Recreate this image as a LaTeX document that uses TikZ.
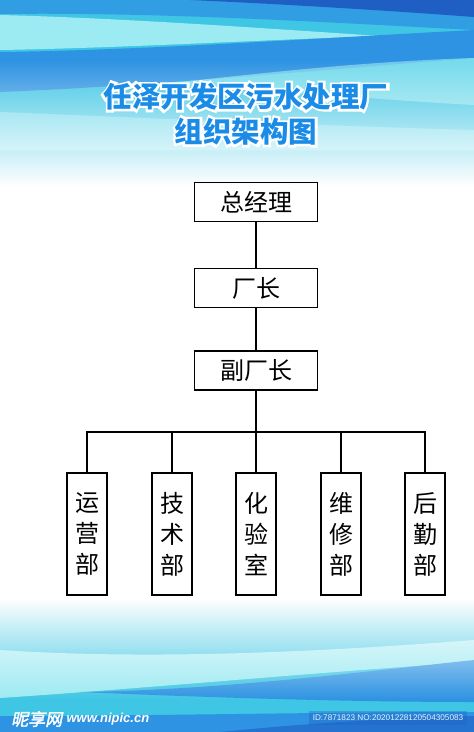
\documentclass[tikz,border=0pt]{standalone}
\usepackage{fontspec}
\setmainfont{Noto Sans CJK SC}
\newfontfamily\latinfont{Liberation Sans}
\newfontfamily\wmfont[FakeSlant=0.2,FakeBold=2]{Noto Sans CJK SC}
\newfontfamily\ttlout[FakeBold=20]{Noto Sans CJK SC}
\usetikzlibrary{positioning}
\usetikzlibrary{fadings}

\definecolor{wvdark}{HTML}{1F5FC4}
\definecolor{wvblue}{HTML}{2E93E2}
\definecolor{wvcyan}{HTML}{3EC6E4}
\definecolor{wvlight}{HTML}{9CEAF2}
\definecolor{ttlblue}{HTML}{1A8CE8}

\tikzfading[name=fadedown, top color=transparent!100, bottom color=transparent!0]
\tikzfading[name=fadeup, top color=transparent!0, bottom color=transparent!100]

\begin{document}
\begin{tikzpicture}[x=1pt,y=1pt,
			box/.style={draw, line width=1.2pt, minimum width=123pt, minimum height=39pt, inner sep=0pt, font=\fontsize{24}{24}\selectfont},
			dept/.style={draw, line width=1.2pt, minimum width=40pt, minimum height=122pt, inner sep=0pt, align=center, font=\fontsize{24}{31}\selectfont},
			link/.style={line width=1.2pt},
			ttl/.style={font=\fontsize{28.5}{35}\selectfont\bfseries, text=ttlblue, inner sep=0pt, align=center}
			]
			\useasboundingbox (0,0) rectangle (474,-732);
			\fill[white] (0,0) rectangle (474,-732);
			
			% Top waves
			\fill[wvcyan] (0,0) rectangle (474,-185);
			\fill[wvblue!80!wvcyan] (0,0) -- (474,0) -- (474,-30) .. controls (320,-22) and (160,-12) .. (0,-14) -- cycle;
			\fill[wvdark] (190,0) -- (474,0) -- (474,-17) .. controls (380,-10) and (280,-4) .. (190,0) -- cycle;
			\fill[wvlight] (0,-15) .. controls (120,-18) and (260,-28) .. (380,-36) .. controls (260,-40) and (120,-48) .. (0,-50) -- cycle;
			\fill[wvblue] (0,-52) .. controls (150,-50) and (320,-38) .. (474,-30) -- (474,-58) .. controls (320,-70) and (150,-86) .. (0,-92) -- cycle;
			\fill[wvlight, opacity=.6] (474,-58) .. controls (350,-62) and (250,-75) .. (150,-85) .. controls (280,-90) and (380,-100) .. (474,-105) -- cycle;
			\fill[wvlight, opacity=.5] (0,-112) .. controls (150,-118) and (300,-125) .. (474,-130) -- (474,-150) -- (0,-150) -- cycle;
			\fill[white, path fading=fadedown] (0,-60) rectangle (474,-186);
			
			% Bottom waves
			\fill[wvcyan] (0,-600) rectangle (474,-732);
			\fill[wvlight] (0,-650) .. controls (150,-660) and (320,-652) .. (474,-640) -- (474,-662) .. controls (320,-672) and (150,-688) .. (0,-698) -- cycle;
			\fill[wvblue] (80,-692) .. controls (220,-690) and (360,-672) .. (474,-660) -- (474,-702) .. controls (360,-702) and (220,-698) .. (80,-692) -- cycle;
			\fill[wvblue] (0,-716) .. controls (150,-716) and (320,-712) .. (474,-712) -- (474,-732) -- (0,-732) -- cycle;
			\fill[wvdark, opacity=.6] (220,-732) .. controls (320,-722) and (400,-718) .. (474,-716) -- (474,-732) -- cycle;
			\fill[white, path fading=fadeup] (0,-598) rectangle (474,-700);
			
			% Title, white outline under blue fill
			\node[ttl, text=white, font=\ttlout\fontsize{28.5}{35}\selectfont] (titleout) at (246,-114) {任泽开发区污水处理厂\\组织架构图};
			\node[ttl] (title) at (246,-114) {任泽开发区污水处理厂\\组织架构图};
			
			% Management
			\node[box] (gm) at (256,-202) {总经理};
			\node[box, below=46pt of gm] (fz) {厂长};
			\node[box, below=42pt of fz] (ffz) {副厂长};
			
			% Departments
			\foreach \i/\x/\t in {1/87/运\\营\\部, 2/172/技\\术\\部, 3/256/化\\验\\室, 4/341/维\\修\\部, 5/425/后\\勤\\部}
			\node[dept] (d\i) at (\x,-534) {\t};
			
			% Connections
			\coordinate (bus) at (256,-432);
			\draw[link] (gm) -- (fz);
			\draw[link] (fz) -- (ffz);
			\draw[link] (ffz) -- (bus);
			\foreach \i in {1,...,5}
			\draw[link] (d\i.north) |- (bus);
			
			% Watermark
			\node[anchor=west, text=white, font=\wmfont\fontsize{17}{17}\selectfont, inner sep=0pt] (wm) at (11,-719) {昵享网};
			\node[right=4pt of wm, text=white, font=\latinfont\bfseries\itshape\fontsize{13}{13}\selectfont, inner sep=0pt] (wmurl) {www.nipic.cn};
			\node[fill=wvdark, fill opacity=.35, text opacity=1, text=white!85!wvcyan, minimum width=158pt, minimum height=14pt, inner sep=0pt, font=\latinfont\fontsize{8.2}{9}\selectfont] (wmid) at (388,-718) {ID:7871823 NO:20201228120504305083};
		\end{tikzpicture}
\end{document}
